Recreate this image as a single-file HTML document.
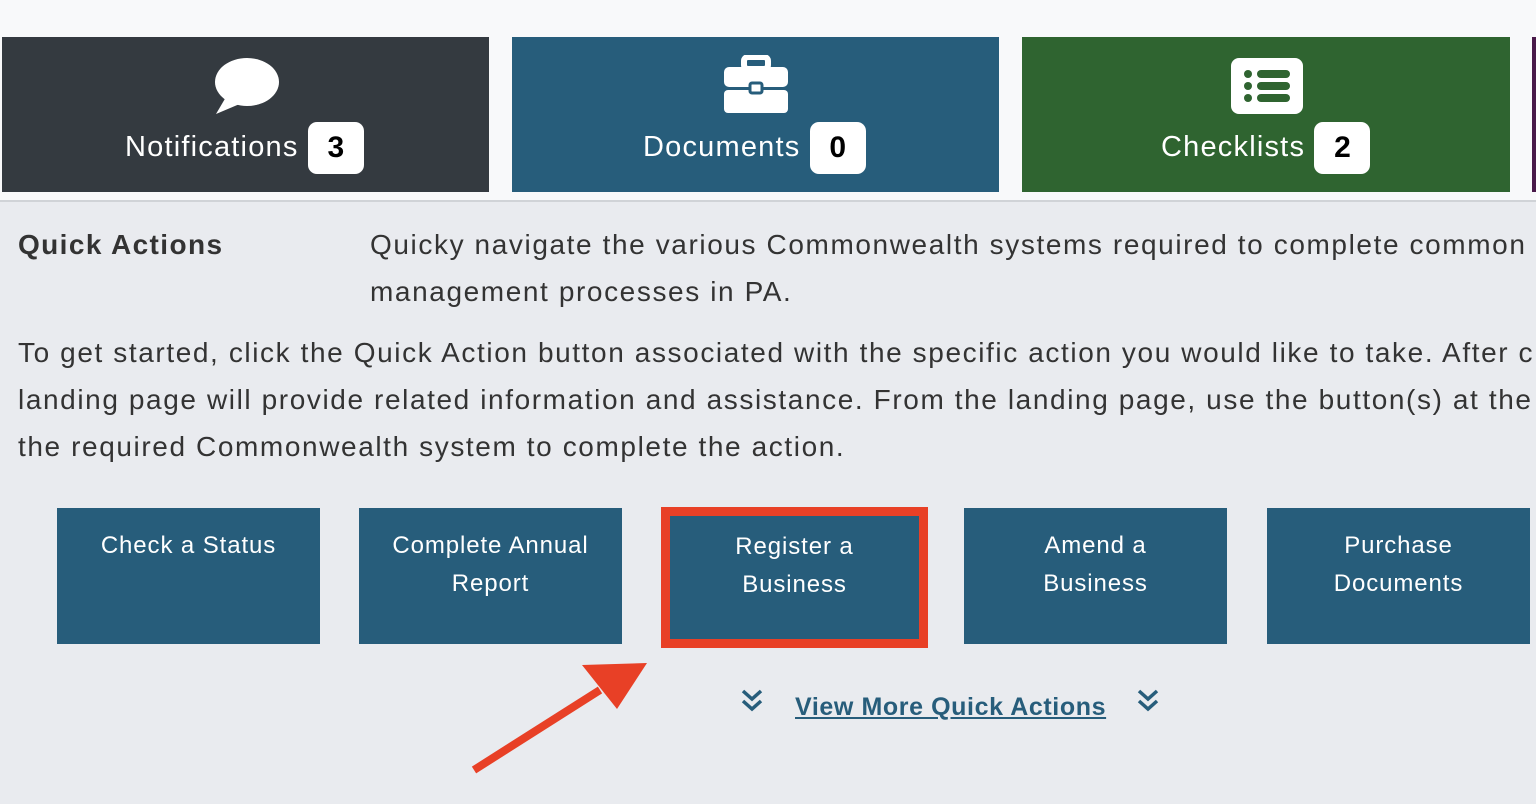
<!DOCTYPE html>
<html><head><style>
*{margin:0;padding:0;box-sizing:border-box}
body{width:1536px;height:804px;overflow:hidden;background:#e9ebef;font-family:"Liberation Sans",sans-serif;position:relative}
.top{position:absolute;left:0;top:0;width:1536px;height:202px;background:#f8f9fa;border-bottom:2px solid #d0d3d7}
.tile{position:absolute;top:37px;height:155px;color:#fff;font-size:29px}
.badge{display:inline-block;background:#fff;color:#000;border-radius:9px;width:56px;height:52px;font-weight:bold;font-size:30px;text-align:center;line-height:52px;vertical-align:middle;letter-spacing:0}
.b{position:absolute;top:508px;width:263px;height:136px;background:#275d7b;color:#fff;font-size:24px;text-align:center;line-height:38px;padding-top:19px;letter-spacing:0.9px}
.p{position:absolute;font-size:28px;color:#333;line-height:47px;letter-spacing:1.6px}
.lab{position:absolute;top:121px;color:#fff;font-size:29px;line-height:52px;letter-spacing:1.2px;white-space:nowrap}
</style></head><body>
<div class="top"></div>
<div class="tile" style="left:2px;width:487px;background:#343a40">
<svg style="position:absolute;left:212px;top:20px" width="66" height="58" viewBox="0 0 66 58"><ellipse cx="33" cy="25" rx="32" ry="24" fill="#fff"/><path d="M12 40 L2 57 L28 46 Z" fill="#fff"/></svg>
</div>
<div class="tile" style="left:512px;width:487px;background:#275d7b">
<svg style="position:absolute;left:212px;top:18px" width="64" height="58" viewBox="0 0 64 58"><rect x="20" y="2" width="24" height="12" rx="4" fill="none" stroke="#fff" stroke-width="6"/><rect x="0" y="12" width="64" height="20" rx="5" fill="#fff"/><rect x="0" y="35" width="64" height="23" rx="4" fill="#fff"/><rect x="26" y="28" width="12" height="10" rx="2" fill="#fff" stroke="#275d7b" stroke-width="3"/></svg>
</div>
<div class="tile" style="left:1022px;width:488px;background:#2f6430">
<svg style="position:absolute;left:209px;top:21px" width="72" height="56" viewBox="0 0 72 56"><rect width="72" height="56" rx="8" fill="#fff"/><g fill="#2f6430"><circle cx="17" cy="16" r="4"/><circle cx="17" cy="28" r="4"/><circle cx="17" cy="40" r="4"/><rect x="26" y="12" width="33" height="8" rx="4"/><rect x="26" y="24" width="33" height="8" rx="4"/><rect x="26" y="36" width="33" height="8" rx="4"/></g></svg>
</div>
<div style="position:absolute;left:1532px;top:37px;width:4px;height:155px;background:#4a1a4a"></div>
<div class="lab" style="left:125px">Notifications <span class="badge">3</span></div>
<div class="lab" style="left:643px">Documents <span class="badge">0</span></div>
<div class="lab" style="left:1161px">Checklists <span class="badge">2</span></div>
<div class="p" style="left:18px;top:221px;font-weight:bold;letter-spacing:1.4px">Quick Actions</div>
<div class="p" style="left:370px;top:221px;white-space:nowrap">Quicky navigate the various Commonwealth systems required to complete common<br>management processes in PA.</div>
<div class="p" style="left:18px;top:329px;white-space:nowrap">To get started, click the Quick Action button associated with the specific action you would like to take. After c<br>landing page will provide related information and assistance. From the landing page, use the button(s) at the l<br>the required Commonwealth system to complete the action.</div>
<div class="b" style="left:57px">Check a Status</div>
<div class="b" style="left:359px">Complete Annual<br>Report</div>
<div class="b" style="left:661px;width:267px;height:141px;top:507px;border:9px solid #e84026;padding-top:12px">Register a<br>Business</div>
<div class="b" style="left:964px">Amend a<br>Business</div>
<div class="b" style="left:1267px">Purchase<br>Documents</div>
<svg style="position:absolute;left:0;top:0" width="1536" height="804">
<line x1="474" y1="770" x2="600" y2="690" stroke="#e84026" stroke-width="8"/>
<polygon points="647,663 582,665 617,709" fill="#e84026"/>
<g fill="none" stroke="#275d7b" stroke-width="3.5"><path d="M743 691 L752 699 L761 691 M743 701 L752 709 L761 701"/><path d="M1139 691 L1148 699 L1157 691 M1139 701 L1148 709 L1157 701"/></g>
</svg>
<div style="position:absolute;left:795px;top:693px;font-size:25px;font-weight:bold;color:#275d7b;text-decoration:underline;letter-spacing:0.6px">View More Quick Actions</div>
</body></html>
